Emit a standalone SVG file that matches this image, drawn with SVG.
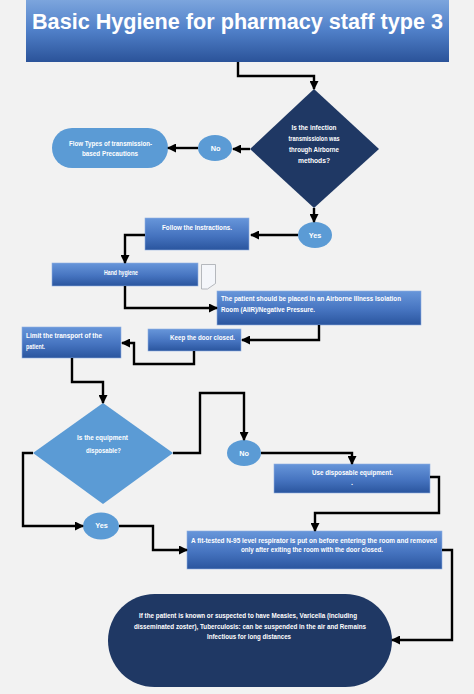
<svg xmlns="http://www.w3.org/2000/svg" width="474" height="694" viewBox="0 0 474 694">
  <defs>
    <linearGradient id="gTitle" x1="0" y1="0" x2="0" y2="1">
      <stop offset="0" stop-color="#7ca5dd"/>
      <stop offset="0.5" stop-color="#4f7fc8"/>
      <stop offset="1" stop-color="#2b5399"/>
    </linearGradient>
    <linearGradient id="gBox" x1="0" y1="0" x2="0" y2="1">
      <stop offset="0" stop-color="#6796da"/>
      <stop offset="0.55" stop-color="#4674c0"/>
      <stop offset="1" stop-color="#2a559e"/>
    </linearGradient>
    <marker id="arr" markerUnits="userSpaceOnUse" markerWidth="9" markerHeight="9" refX="8" refY="4.5" orient="auto">
      <path d="M0,0 L9,4.5 L0,9 Z" fill="#000"/>
    </marker>
  </defs>
  <style>
    .box { fill: url(#gBox); stroke: #8fb0e0; stroke-width: 0.6; }
    .dark { fill: #1f3864; }
    .light { fill: #5b9bd5; }
    .t { font-family: "Liberation Sans", Arial, sans-serif; font-size: 7.3px; font-weight: bold; fill: #ffffff; }
    .c { text-anchor: middle; }
    .conn path { fill: none; stroke: #000; stroke-width: 2.4; marker-end: url(#arr); }
  </style>
  <rect x="0" y="0" width="474" height="694" fill="#f2f2f2"/>

  <g id="title">
    <rect x="26" y="0" width="423" height="62" fill="url(#gTitle)"/>
    <text x="237.5" y="29" text-anchor="middle" textLength="411" lengthAdjust="spacingAndGlyphs" font-family="Liberation Sans, Arial, sans-serif" font-size="22" font-weight="bold" fill="#ffffff">Basic Hygiene for pharmacy staff type 3</text>
  </g>

  <g id="d1">
    <polygon class="dark" points="314,89 379,149 314,208 250,149"/>
    <text class="t c" x="314" y="129.5" textLength="45" lengthAdjust="spacingAndGlyphs">Is the infection</text>
    <text class="t c" x="314" y="140.5" textLength="51" lengthAdjust="spacingAndGlyphs">transmissiolon was</text>
    <text class="t c" x="314" y="151.5" textLength="50" lengthAdjust="spacingAndGlyphs">through Airborne</text>
    <text class="t c" x="314" y="163" textLength="32" lengthAdjust="spacingAndGlyphs">methods?</text>
  </g>

  <g id="no1">
    <ellipse class="light" cx="215" cy="148" rx="17" ry="13"/>
    <text class="t c" x="215.5" y="150.5">No</text>
  </g>

  <g id="flowtypes">
    <rect class="light" x="52" y="128" width="116" height="40" rx="20" ry="20"/>
    <text class="t c" x="110.5" y="145.5" textLength="83" lengthAdjust="spacingAndGlyphs">Flow Types of transmission-</text>
    <text class="t c" x="110" y="155.5" textLength="56" lengthAdjust="spacingAndGlyphs">based Precautions</text>
  </g>

  <g id="yes1">
    <ellipse class="light" cx="315" cy="235" rx="17" ry="13"/>
    <text class="t c" x="315" y="237.5">Yes</text>
  </g>

  <g id="follow">
    <rect class="box" x="145" y="218" width="104" height="32"/>
    <text class="t c" x="197" y="229.5" textLength="70" lengthAdjust="spacingAndGlyphs">Follow the Instractions.</text>
  </g>

  <g id="hand">
    <rect class="box" x="52" y="263" width="146" height="23"/>
    <text class="t c" x="121" y="274.5" textLength="34" lengthAdjust="spacingAndGlyphs">Hand hygiene</text>
  </g>

  <g id="doc">
    <path d="M201.5,264.5 H215.5 V283.5 L207.5,289 H201.5 Z" fill="#f4f6fa" stroke="#a4a8ae" stroke-width="0.8"/>
  </g>

  <g id="aiir">
    <rect class="box" x="217" y="291" width="204" height="34"/>
    <text class="t" x="221" y="300.5" textLength="180" lengthAdjust="spacingAndGlyphs">The patient should be placed in an Airborne Illness Isolation</text>
    <text class="t" x="221" y="311.5" textLength="94" lengthAdjust="spacingAndGlyphs">Room (AIIR)/Negative Pressure.</text>
  </g>

  <g id="keep">
    <rect class="box" x="148" y="329" width="93" height="22"/>
    <text class="t c" x="202.5" y="339.5" textLength="65" lengthAdjust="spacingAndGlyphs">Keep the door closed.</text>
  </g>

  <g id="limit">
    <rect class="box" x="22" y="327" width="99" height="31"/>
    <text class="t" x="26" y="337.5" textLength="76" lengthAdjust="spacingAndGlyphs">Limit the transport of the</text>
    <text class="t" x="26" y="348.5" textLength="19" lengthAdjust="spacingAndGlyphs">patient.</text>
  </g>

  <g id="d2">
    <polygon class="light" points="103,403 173,453 103,504 33,453"/>
    <text class="t c" x="102.5" y="439.5" textLength="51" lengthAdjust="spacingAndGlyphs">Is the equipment</text>
    <text class="t c" x="103.5" y="452.5" textLength="35" lengthAdjust="spacingAndGlyphs">disposable?</text>
  </g>

  <g id="no2">
    <ellipse class="light" cx="244" cy="453" rx="17" ry="13"/>
    <text class="t c" x="244" y="455.5">No</text>
  </g>

  <g id="use">
    <rect class="box" x="274" y="464" width="156" height="29"/>
    <text class="t c" x="352.5" y="474.5" textLength="81" lengthAdjust="spacingAndGlyphs">Use disposable equipment.</text>
    <text class="t c" x="352" y="485">.</text>
  </g>

  <g id="yes2">
    <ellipse class="light" cx="101" cy="526" rx="18" ry="13.5"/>
    <text class="t c" x="101.5" y="528">Yes</text>
  </g>

  <g id="n95">
    <rect class="box" x="187" y="531" width="255" height="38"/>
    <text class="t c" x="314" y="542.5" textLength="246" lengthAdjust="spacingAndGlyphs">A fit-tested N-95 level respirator is put on before entering the room and removed</text>
    <text class="t c" x="312" y="552" textLength="142" lengthAdjust="spacingAndGlyphs">only after exiting the room with the door closed.</text>
  </g>

  <g id="final">
    <rect class="dark" x="108" y="594" width="284" height="93" rx="46.5" ry="46.5"/>
    <text class="t c" x="248" y="617.5" textLength="218" lengthAdjust="spacingAndGlyphs">If the patient is known or suspected to have Measles, Varicella (including</text>
    <text class="t c" x="250" y="628.5" textLength="232" lengthAdjust="spacingAndGlyphs">disseminated zoster), Tuberculosis: can be suspended in the air and Remains</text>
    <text class="t c" x="249" y="639" textLength="84" lengthAdjust="spacingAndGlyphs">Infectious for long distances</text>
  </g>

  <g id="connectors" class="conn">
    <path d="M238,62 V76 H314 V89"/>
    <path d="M250,149 H233"/>
    <path d="M198,148 H168"/>
    <path d="M314,208 V222"/>
    <path d="M298,235 H251"/>
    <path d="M145,235 H125 V263"/>
    <path d="M125,286 V308 H217"/>
    <path d="M319,325 V340 H242"/>
    <path d="M194,351 V364 H134 V343 H122"/>
    <path d="M72,358 V382 H103 V403"/>
    <path d="M173,453 H200 V393 H244 V440"/>
    <path d="M261,453 H352 V464"/>
    <path d="M430,477 H439 V513 H315 V531"/>
    <path d="M33,453 H23 V526 H83"/>
    <path d="M119,526 H153 V550 H187"/>
    <path d="M442,550 H452 V640 H392"/>
  </g>
</svg>
